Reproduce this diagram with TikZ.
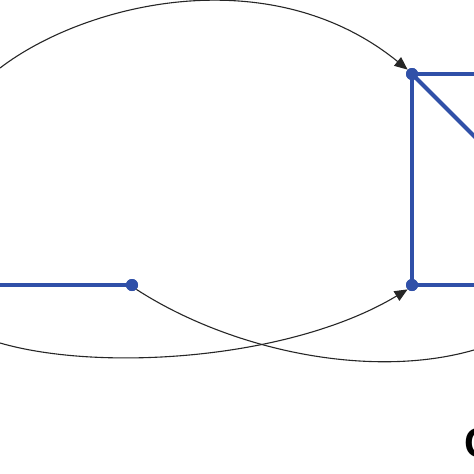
\documentclass[tikz,border=0pt]{standalone}
\usepackage{fontspec}
\setmainfont{Liberation Sans}
\usetikzlibrary{arrows.meta}
\definecolor{netblue}{HTML}{3050A8}
\begin{document}
\begin{tikzpicture}[x=1pt,y=-1pt,
  dotnode/.style={circle,fill=netblue,inner sep=0pt,minimum size=12pt},
  bluewire/.style={draw=netblue,line width=4.2pt},
  flow/.style={draw=black!85,line width=1.1pt,-{Triangle[length=13pt,width=11pt]}},
  plainflow/.style={draw=black!85,line width=1.1pt}]
\useasboundingbox (0,0) rectangle (474,474);
\clip (0,0) rectangle (474,474);
\fill[white] (0,0) rectangle (474,474);
% nodes
\node[dotnode] (a) at (132,285) {};
\node[dotnode] (b) at (412,74) {};
\node[dotnode] (c) at (412,285) {};
\coordinate (lw) at (-5,285);
\coordinate (re1) at (480,74);
\coordinate (re2) at (480,285);
\coordinate (dg) at (480,142);
\coordinate (t0) at (0,68);
\coordinate (b0) at (0,343);
\coordinate (bend) at (474,350);
% blue wires
\draw[bluewire] (lw) -- (a.center);
\draw[bluewire] (b.center) -- (re1);
\draw[bluewire] (b.center) -- (dg);
\draw[bluewire] (b.center) -- (c.center);
\draw[bluewire] (c.center) -- (re2);
\node[dotnode] at (a) {};
\node[dotnode] at (b) {};
\node[dotnode] at (c) {};
% arcs
\draw[flow] (t0) .. controls (85,3) and (270,-42) .. (b.north west);
\draw[flow] (b0) .. controls (100,372) and (290,360) .. (c.south west);
\draw[plainflow] (a.south east) .. controls (230,350) and (370,380) .. (bend);
% label
\node[anchor=west,inner sep=0pt,font=\fontsize{42}{42}\selectfont\bfseries] (lab) at (464,443) {C};
\end{tikzpicture}
\end{document}
